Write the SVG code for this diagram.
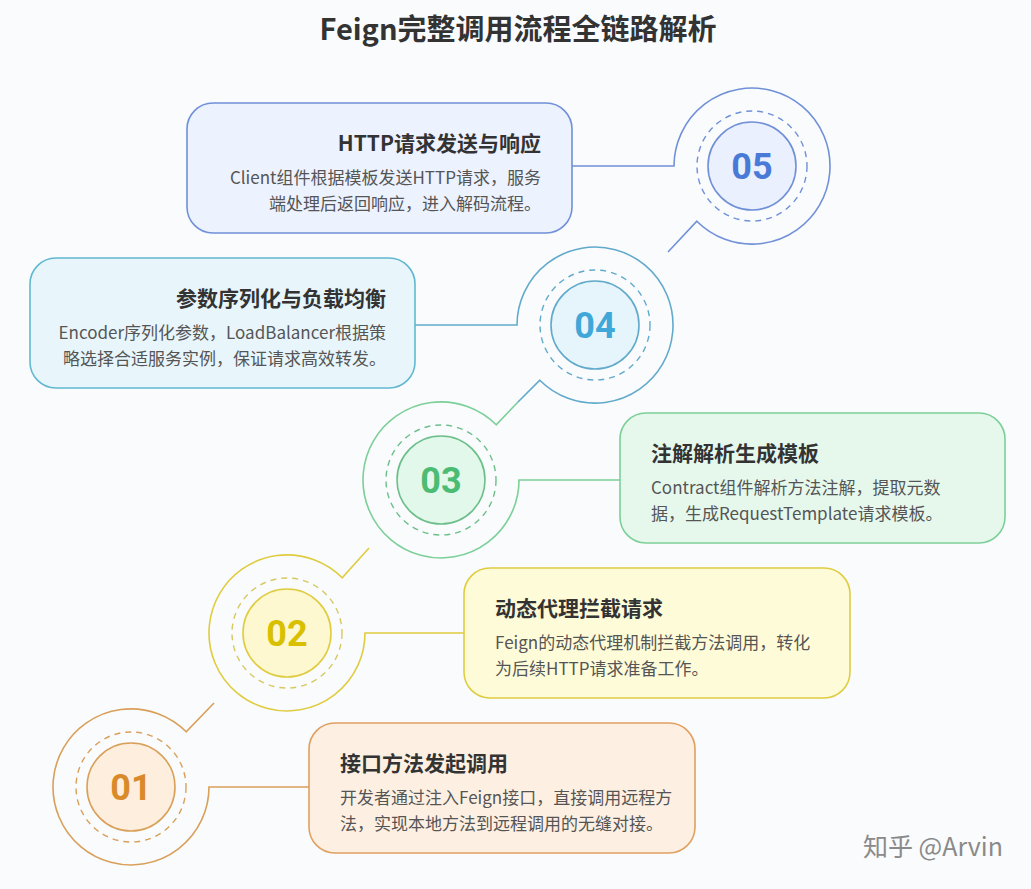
<svg xmlns="http://www.w3.org/2000/svg" width="1031" height="889" viewBox="0 0 1031 889">
<style>
text{font-family:"Noto Sans CJK SC","Noto Sans",sans-serif}
.t{font-size:21px;font-weight:bold;fill:#333}
.b{font-size:17px;fill:#555}
.n{font-family:Roboto,"Noto Sans",sans-serif;font-size:36px;font-weight:bold;text-anchor:middle}
.c{fill:none;stroke-width:1.6}
.d{fill:none;stroke-width:1.4;stroke-dasharray:6 5}
.r{text-anchor:end}
</style>
<rect width="1031" height="889" fill="#f9fbfd"/>
<text x="518" y="40" text-anchor="middle" style="font-size:29px;font-weight:bold;fill:#333">Feign完整调用流程全链路解析</text>
<g id="connectors">
<path class="c" stroke="#d9a05a" d="M214,703 L186.2,731.8 A78 78 0 1 0 209,787 L309,787"/>
<path class="c" stroke="#e0cc40" d="M369,548 L342.2,577.8 A78 78 0 1 0 365,633 L464,633"/>
<path class="c" stroke="#7ccf98" d="M518,402 L496.2,424.8 A78 78 0 1 0 519,480 L620,480"/>
<path class="c" stroke="#62aacb" d="M518,402 L539.8,380.2 A78 78 0 1 0 517,325 L415,325"/>
<path class="c" stroke="#7090d8" d="M668,252 L696.8,221.2 A78 78 0 1 0 674,166 L572,166"/>
</g>
<g id="n01">
<circle class="d" cx="131" cy="787" r="55" stroke="#d9a05a"/>
<circle cx="131" cy="787" r="44" fill="#fdeedd" stroke="#d9a05a" stroke-width="1.6"/>
<text class="n" x="131" y="800" fill="#d98a2a">01</text>
<rect x="309" y="723" width="386" height="130" rx="26" fill="#fdf0e3" stroke="#e0a060" stroke-width="1.6"/>
<text class="t" x="340" y="771">接口方法发起调用</text>
<text class="b" x="340" y="804">开发者通过注入Feign接口，直接调用远程方</text>
<text class="b" x="340" y="830">法，实现本地方法到远程调用的无缝对接。</text>
</g>
<g id="n02">
<circle class="d" cx="287" cy="633" r="55" stroke="#d8c860"/>
<circle cx="287" cy="633" r="44" fill="#fdf8cf" stroke="#e0cc40" stroke-width="1.6"/>
<text class="n" x="287" y="646" fill="#d8c000">02</text>
<rect x="464" y="568" width="386" height="130" rx="26" fill="#fefbd8" stroke="#e0cc40" stroke-width="1.6"/>
<text class="t" x="495" y="616">动态代理拦截请求</text>
<text class="b" x="495" y="649">Feign的动态代理机制拦截方法调用，转化</text>
<text class="b" x="495" y="675">为后续HTTP请求准备工作。</text>
</g>
<g id="n03">
<circle class="d" cx="441" cy="480" r="55" stroke="#6cbf8a"/>
<circle cx="441" cy="480" r="44" fill="#e2f8ea" stroke="#6cbf8a" stroke-width="1.6"/>
<text class="n" x="441" y="493" fill="#4cbc74">03</text>
<rect x="620" y="413" width="385" height="130" rx="26" fill="#e6f8ec" stroke="#7ccf98" stroke-width="1.6"/>
<text class="t" x="651" y="461">注解解析生成模板</text>
<text class="b" x="651" y="494">Contract组件解析方法注解，提取元数</text>
<text class="b" x="651" y="520">据，生成RequestTemplate请求模板。</text>
</g>
<g id="n04">
<circle class="d" cx="595" cy="325" r="55" stroke="#62aacb"/>
<circle cx="595" cy="325" r="44" fill="#e6f5fc" stroke="#62aacb" stroke-width="1.6"/>
<text class="n" x="595" y="338" fill="#40a8d8">04</text>
<rect x="30" y="258" width="385" height="130" rx="26" fill="#e8f6fc" stroke="#60b8d0" stroke-width="1.6"/>
<text class="t r" x="386" y="306">参数序列化与负载均衡</text>
<text class="b r" x="386" y="339">Encoder序列化参数，LoadBalancer根据策</text>
<text class="b r" x="386" y="365">略选择合适服务实例，保证请求高效转发。</text>
</g>
<g id="n05">
<circle class="d" cx="752" cy="166" r="55" stroke="#7090d8"/>
<circle cx="752" cy="166" r="44" fill="#eaf0fd" stroke="#7090d8" stroke-width="1.6"/>
<text class="n" x="752" y="179" fill="#4a7ad8">05</text>
<rect x="187" y="103" width="385" height="130" rx="26" fill="#ecf2fe" stroke="#7090d8" stroke-width="1.6"/>
<text class="t r" x="541" y="151">HTTP请求发送与响应</text>
<text class="b r" x="541" y="184">Client组件根据模板发送HTTP请求，服务</text>
<text class="b r" x="541" y="210">端处理后返回响应，进入解码流程。</text>
</g>
<text x="1003" y="856" text-anchor="end" style="font-size:25px;fill:#8a8a8a">知乎 @Arvin</text>
</svg>
